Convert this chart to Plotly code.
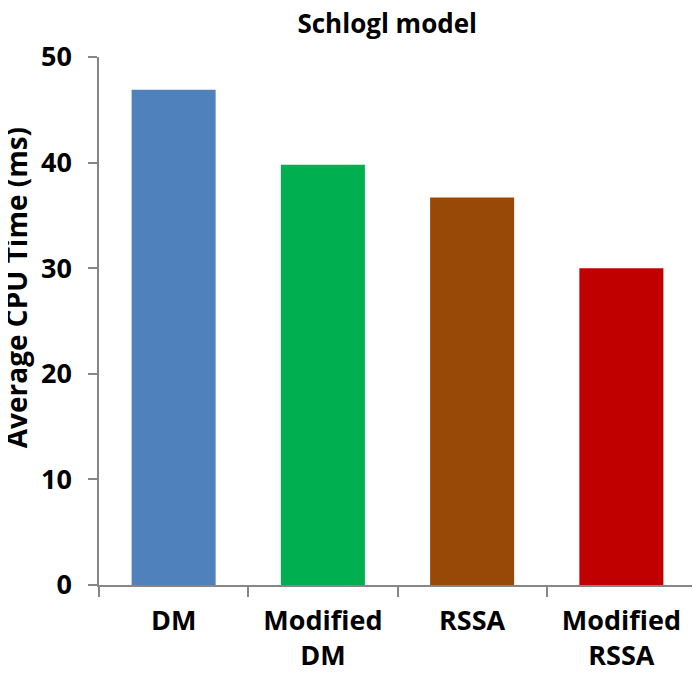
import plotly.graph_objects as go

# Schlogl model, average CPU time per algorithm
methods = ['DM', 'Modified<br>DM', 'RSSA', 'Modified<br>RSSA']
cpu_ms = [46.9, 39.8, 36.7, 30.0]
bar_colors = ['#4F81BD', '#00B050', '#984807', '#C00000']

font_name = 'Open Sans'

fig = go.Figure()
fig.add_trace(go.Bar(x=methods, y=cpu_ms, marker_color=bar_colors,
                     marker_line_width=0))

# page body has an 8px margin, so the figure is a bit smaller than the window
fig.update_layout(
    width=692, height=669,
    paper_bgcolor='white', plot_bgcolor='white',
    margin=dict(l=91, r=4, t=49, b=92, autoexpand=False),
    bargap=0.437,
    showlegend=False,
    title=dict(text='<b>Schlogl model</b>', x=0.548, xanchor='center',
               y=0.977, yanchor='middle', automargin=False,
               font=dict(family=font_name, size=26, color='black')),
)

# y title sits a little above the middle of the axis, so use an annotation
fig.add_annotation(text='<b>Average CPU Time (ms)</b>', textangle=-90,
                   xref='paper', yref='paper', x=0, y=0.562,
                   xanchor='center', yanchor='middle', xshift=-83,
                   showarrow=False,
                   font=dict(family=font_name, size=28, color='black'))

fig.update_yaxes(
    range=[0, 50], dtick=10, showgrid=False, zeroline=False,
    showline=True, linecolor='#868686', linewidth=1.5, automargin=False,
    ticks='outside', ticklen=9, tickcolor='#868686', tickwidth=1.5,
    ticklabelstandoff=11,
    tickfont=dict(family=font_name, size=27, color='black', weight='bold'),
)

fig.update_xaxes(
    showgrid=False, showline=True, linecolor='#868686', linewidth=1.5,
    automargin=False,
    ticks='outside', tickson='boundaries', ticklen=10,
    tickcolor='#868686', tickwidth=1.5, ticklabelstandoff=11,
    tickfont=dict(family=font_name, size=27, color='black', weight='bold'),
)

fig.write_html("out.html")
